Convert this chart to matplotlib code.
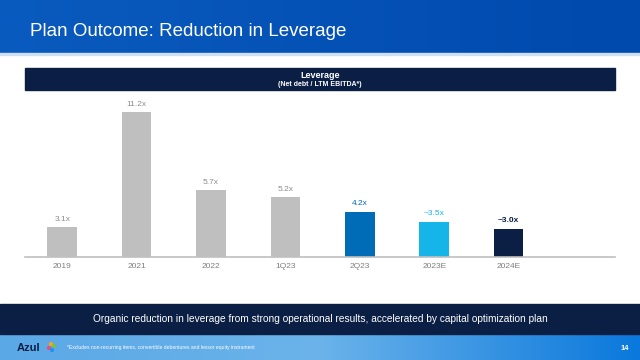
import matplotlib.pyplot as plt
import numpy as np
from matplotlib.colors import LinearSegmentedColormap

categories = ['2019', '2021', '2022', '1Q23', '2Q23', '2023E', '2024E']
values = [3.1, 11.2, 5.7, 5.2, 4.2, 3.5, 3.0]
value_labels = ['3.1x', '11.2x', '5.7x', '5.2x', '4.2x', '~3.5x', '~3.0x']
bar_colors = ['#bfbfbf', '#bfbfbf', '#bfbfbf', '#bfbfbf', '#006bb6', '#16b5e9', '#0b1f45']
label_colors = ['#8c8c8c', '#8c8c8c', '#8c8c8c', '#8c8c8c', '#006bb6', '#16b5e9', '#0b1f45']

plt.rcParams['font.family'] = ['Liberation Sans', 'DejaVu Sans']

W, H = 640, 360
fig = plt.figure(figsize=(6.4, 3.6), dpi=100)
fig.patch.set_facecolor('white')

# background layer in pixel coords
bg = fig.add_axes([0, 0, 1, 1])
bg.set_xlim(0, W)
bg.set_ylim(H, 0)
bg.axis('off')

# header gradient
head = LinearSegmentedColormap.from_list('head', ['#0a5bbf', '#0049ad'])
bg.imshow(np.linspace(0, 1, 256).reshape(1, -1), cmap=head, aspect='auto',
          extent=[0, W, 53, 0], zorder=0)
bg.add_patch(plt.Rectangle((0, 53), W, 1.5, color='#cfe0f5', zorder=1))
bg.text(30, 32, 'Plan Outcome: Reduction in Leverage', color='white',
        fontsize=13.5, va='center', ha='left')

# chart title banner
bg.add_patch(plt.Rectangle((25, 68), 590, 22, color='#0b1f45', zorder=1))
bg.text(320, 75, 'Leverage', color='white', fontsize=6.5, fontweight='bold',
        ha='center', va='center', zorder=2)
bg.text(320, 84, '(Net debt / LTM EBITDA*)', color='white', fontsize=5,
        fontweight='bold', ha='center', va='center', zorder=2)

# bottom banner
bg.add_patch(plt.Rectangle((0, 304), W, 30, color='#0b1f45', zorder=1))
bg.text(320, 319, 'Organic reduction in leverage from strong operational results, accelerated by capital optimization plan',
        color='white', fontsize=7.3, ha='center', va='center', zorder=2)

# footer gradient
foot = LinearSegmentedColormap.from_list('foot', ['#5aa8e6', '#6bb3ea', '#0a78dc'])
bg.imshow(np.linspace(0, 1, 256).reshape(1, -1), cmap=foot, aspect='auto',
          extent=[0, W, H, 334], zorder=0)
bg.text(17, 348, 'Azul', color='#0b1f45', fontsize=8, fontweight='bold',
        ha='left', va='center')
# small multicoloured mark next to the logo
for dx, dy, c in [(0, -3, '#f5a623'), (3, -1, '#7bc043'), (-2, 1, '#e94e77'), (1, 3, '#1e90ff')]:
    bg.add_patch(plt.Circle((51 + dx, 347 + dy), 1.4, color=c, zorder=2))
bg.text(67, 348, '*Excludes non-recurring items, convertible debentures and lessor equity instrument',
        color='white', fontsize=3.6, ha='left', va='center')
bg.text(629, 348, '14', color='white', fontsize=5.5, fontweight='bold',
        ha='right', va='center')

# bar chart
ax = fig.add_axes([25 / W, 1 - 257 / H, 590 / W, 157 / H])
x = np.arange(len(categories))
ax.bar(x, values, width=0.4, color=bar_colors, zorder=2)
ax.set_xlim(-0.5, 7.43)
ax.set_ylim(1.0, 12.06)
for xi, v, lab, c in zip(x, values, value_labels, label_colors):
    ax.annotate(lab, (xi, v), xytext=(0, 3), textcoords='offset points',
                ha='center', va='bottom', fontsize=6, color=c,
                fontweight='bold' if c == '#0b1f45' else 'normal')
ax.set_xticks(x)
ax.set_xticklabels(categories, fontsize=6, color='#7f7f7f')
ax.tick_params(axis='x', length=0, pad=4)
ax.set_yticks([])
for s in ['top', 'right', 'left']:
    ax.spines[s].set_visible(False)
ax.spines['bottom'].set_color('#bfbfbf')
ax.spines['bottom'].set_linewidth(1.2)
ax.patch.set_alpha(0)

fig.savefig('out.png', dpi=100)
